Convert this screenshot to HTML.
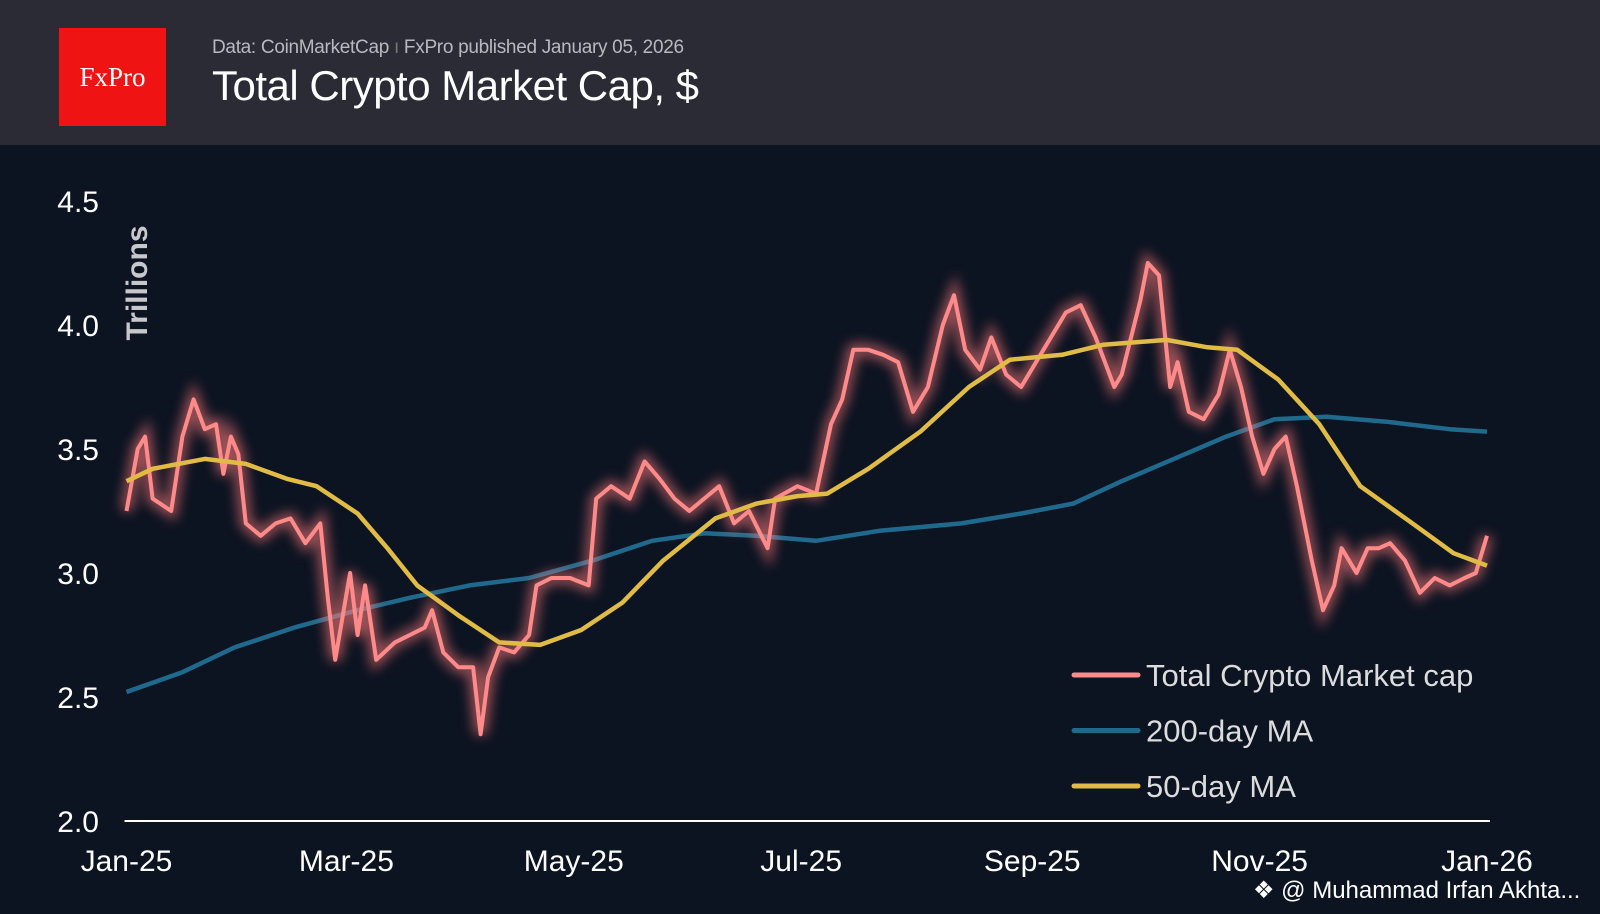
<!DOCTYPE html>
<html><head><meta charset="utf-8"><style>
body{margin:0;width:1600px;height:914px;background:#0c1321;overflow:hidden;font-family:"Liberation Sans",sans-serif}
#hdr{position:absolute;left:0;top:0;width:1600px;height:145px;background:#2a2b35}
#logo{position:absolute;left:59px;top:28px;width:107px;height:98px;background:#ef1313;color:#fff;font-family:"Liberation Serif",serif;font-size:27px;display:flex;align-items:center;justify-content:center}
#sub{position:absolute;left:212px;top:37px;color:#b8b9c0;font-size:19px;letter-spacing:-0.3px}
#ttl{position:absolute;left:212px;top:62px;color:#fff;font-size:42px;letter-spacing:-0.5px}
svg{position:absolute;left:0;top:0}
</style></head><body>
<div id="hdr">
<div id="logo">FxPro</div>
<div id="sub">Data: CoinMarketCap <span style="color:#777">ı</span> FxPro published January 05, 2026</div>
<div id="ttl">Total Crypto Market Cap, $</div>
</div>
<svg id="chart" width="1600" height="914">
<defs><filter id="glow" x="-10%" y="-10%" width="120%" height="120%"><feGaussianBlur stdDeviation="6"/></filter></defs>
</svg>
<script>
const priceDays=[0,3,5,7,10,12,15,18,21,24,26,28,30,32,36,40,44,48,52,54,56,60,62,64,67,72,76,80,82,85,89,93,95,97,100,104,108,110,114,119,124,126,130,135,139,143,147,151,155,159,163,167,172,174,180,185,189,192,195,199,203,207,211,215,219,222,225,229,232,236,240,244,248,252,256,260,265,267,272,274,277,280,282,285,289,293,296,299,302,305,308,311,314,318,321,324,326,330,333,336,339,343,347,351,355,359,362,365];
const priceVals=[3.25,3.5,3.55,3.3,3.27,3.25,3.55,3.7,3.58,3.6,3.4,3.55,3.48,3.2,3.15,3.2,3.22,3.12,3.2,2.9,2.65,3.0,2.75,2.95,2.65,2.72,2.75,2.78,2.85,2.68,2.62,2.62,2.35,2.58,2.7,2.68,2.75,2.95,2.98,2.98,2.95,3.3,3.35,3.3,3.45,3.38,3.3,3.25,3.3,3.35,3.2,3.25,3.1,3.3,3.35,3.32,3.6,3.7,3.9,3.9,3.88,3.85,3.65,3.75,4.0,4.12,3.9,3.82,3.95,3.8,3.75,3.85,3.95,4.05,4.08,3.95,3.75,3.8,4.1,4.25,4.2,3.75,3.85,3.65,3.62,3.72,3.9,3.75,3.55,3.4,3.5,3.55,3.35,3.05,2.85,2.95,3.1,3.0,3.1,3.1,3.12,3.05,2.92,2.98,2.95,2.98,3.0,3.15];
const ma50Days=[0,7,21,32,43,51,62,70,78,89,100,111,122,133,144,158,169,180,188,199,213,226,237,251,262,279,290,298,309,320,331,345,356,365];
const ma50Vals=[3.37,3.42,3.46,3.44,3.38,3.35,3.24,3.1,2.95,2.83,2.72,2.71,2.77,2.88,3.05,3.22,3.28,3.31,3.32,3.42,3.57,3.75,3.86,3.88,3.92,3.94,3.91,3.9,3.78,3.6,3.35,3.2,3.08,3.03];
const ma200Days=[0,15,29,45,62,76,92,108,125,141,155,169,185,202,224,240,254,267,281,295,308,322,338,355,365];
const ma200Vals=[2.52,2.6,2.7,2.78,2.85,2.9,2.95,2.98,3.05,3.13,3.16,3.15,3.13,3.17,3.2,3.24,3.28,3.37,3.46,3.55,3.62,3.63,3.61,3.58,3.57];
const yTicks=[2.0,2.5,3.0,3.5,4.0,4.5];
const xTickDays=[0,59,120,181,243,304,365];
const xTickLabels=["Jan-25","Mar-25","May-25","Jul-25","Sep-25","Nov-25","Jan-26"];
const legendLabels=["Total Crypto Market cap","200-day MA","50-day MA"];
const legendColors=["#ff8a8a","#1f6a8c","#e0bb45"];

const NS="http://www.w3.org/2000/svg";
const svg=document.getElementById('chart');
const X0=126.5,X1=1487,Y0=821,Y1=201;
const X=d=>X0+d*(X1-X0)/365;
const Y=v=>Y0-(v-2.0)*(Y0-Y1)/2.5;
function mk(tag,attrs,parent){const e=document.createElementNS(NS,tag);for(const k in attrs)e.setAttribute(k,attrs[k]);(parent||svg).appendChild(e);return e;}
function pathD(ds,vs){return ds.map((d,i)=>(i?'L':'M')+X(d).toFixed(1)+','+Y(vs[i]).toFixed(1)).join(' ');}
const F='Liberation Sans, sans-serif';
yTicks.forEach(t=>{const e=mk('text',{x:99,y:Y(t)+11,'text-anchor':'end',fill:'#fff','font-size':30,'font-family':F});e.textContent=t.toFixed(1);

});
xTickDays.forEach((d,i)=>{const e=mk('text',{x:X(d),y:871,'text-anchor':'middle',fill:'#fff','font-size':30,'font-family':F});e.textContent=xTickLabels[i];

});
const yt=mk('text',{x:0,y:0,transform:'translate(147,283) rotate(-90)','text-anchor':'middle',fill:'#c8c8cc','font-size':30,'font-weight':'bold','font-family':F});yt.textContent='Trillions';


const ax=mk('line',{x1:124.5,x2:1490,y1:Y0,y2:Y0,stroke:'#fff','stroke-width':2});



const m2=mk('path',{d:pathD(ma200Days,ma200Vals),fill:'none',stroke:'#1f6a8c','stroke-width':4.5,'stroke-linejoin':'round'});


const g=mk('path',{d:pathD(priceDays,priceVals),fill:'none',stroke:'#ff7a7a','stroke-width':12,opacity:0.6,filter:'url(#glow)'});


const p=mk('path',{d:pathD(priceDays,priceVals),fill:'none',stroke:'#ff8a8a','stroke-width':4,'stroke-linejoin':'round'});


const m5=mk('path',{d:pathD(ma50Days,ma50Vals),fill:'none',stroke:'#e0bb45','stroke-width':4.5,'stroke-linejoin':'round'});



legendLabels.forEach((l,i)=>{const y=675+i*55.5;
const ln=mk('line',{x1:1074,x2:1138,y1:y,y2:y,stroke:legendColors[i],'stroke-width':5,'stroke-linecap':'round'});


const t=mk('text',{x:1146,y:y+11,fill:'#dcdcdc','font-size':31,'font-family':F});t.textContent=l;

});
const w=mk('text',{x:1253,y:898,fill:'#fff','font-size':24,'font-family':F});w.textContent='❖ @ Muhammad Irfan Akhta...';


</script>
</body></html>
